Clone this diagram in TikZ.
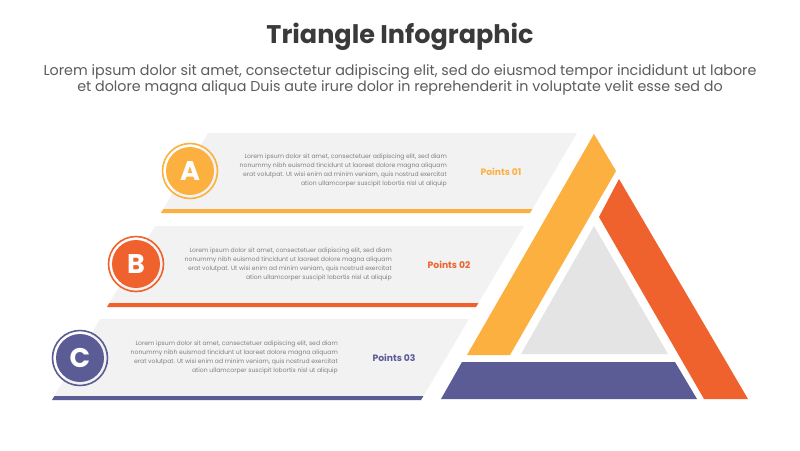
\documentclass[tikz,border=0pt]{standalone}
\usepackage{fontspec}
\setmainfont{Poppins}
\usetikzlibrary{positioning}

\definecolor{ptyellow}{HTML}{FBB040}
\definecolor{ptorange}{HTML}{F0622D}
\definecolor{ptpurple}{HTML}{5B5B96}
\definecolor{panelgray}{HTML}{F2F2F2}
\definecolor{innergray}{HTML}{E4E4E4}
\definecolor{titlegray}{HTML}{3A3A3A}
\definecolor{bodygray}{HTML}{5C5C5C}
\definecolor{smallgray}{HTML}{808080}

\tikzset{
    panel/.style={fill=panelgray},
    bar/.style={fill=#1},
    badge/.style={
        circle,
        fill=#1,
        minimum size=48pt,
        inner sep=0pt,
        text=white,
        font=\fontsize{27}{27}\selectfont\bfseries
    },
    ring/.style={draw=#1, line width=1.6pt},
    desc/.style={
        anchor=east,
        align=right,
        inner sep=0pt,
        text=smallgray,
        font=\fontsize{6.1}{9}\selectfont
    },
    points/.style={
        text=#1,
        inner sep=0pt,
        font=\fontsize{9.2}{9.2}\selectfont\bfseries
    }
}

\newcommand{\loremtext}{Lorem ipsum dolor sit amet, consectetuer adipiscing elit, sed diam\\
nonummy nibh euismod tincidunt ut laoreet dolore magna aliquam\\
erat volutpat. Ut wisi enim ad minim veniam, quis nostrud exercitat\\
ation ullamcorper suscipit lobortis nisl ut aliquip}

\begin{document}
\begin{tikzpicture}[x=1pt, y=-1pt]
    \useasboundingbox[fill=white] (0,0) rectangle (800,450);

    % heading
    \node[text=titlegray, font=\fontsize{25.5}{25.5}\selectfont\bfseries] (title) at (400,37) {Triangle Infographic};
    \node[text=bodygray, align=center, font=\fontsize{14.3}{16.5}\selectfont] (subtitle) at (400,80)
        {Lorem ipsum dolor sit amet, consectetur adipiscing elit, sed do eiusmod tempor incididunt ut labore\\
         et dolore magna aliqua Duis aute irure dolor in reprehenderit in voluptate velit esse sed do};

    % panels
    \fill[panel] (208,133) -- (577,133) -- (530,213) -- (161,213) -- cycle;
    \fill[bar=ptyellow] (163.3,209) -- (532.3,209) -- (530,213) -- (161,213) -- cycle;
    \fill[panel] (155,226) -- (524,226) -- (476,307) -- (107,307) -- cycle;
    \fill[bar=ptorange] (109.4,303) -- (478.4,303) -- (476,307) -- (107,307) -- cycle;
    \fill[panel] (100,319) -- (469,319) -- (421,400) -- (52,400) -- cycle;
    \fill[bar=ptpurple] (54.4,396) -- (423.4,396) -- (421,400) -- (52,400) -- cycle;

    % badges
    \node[badge=ptyellow] (A) at (190,171) {A};
    \draw[ring=ptyellow] (A.center) circle (27.5pt);
    \node[badge=ptorange] (B) at (136,264) {B};
    \draw[ring=ptorange] (B.center) circle (27.5pt);
    \node[badge=ptpurple] (C) at (80,358) {C};
    \draw[ring=ptpurple] (C.center) circle (27.5pt);

    % texts
    \node[desc] (descA) at (447,170) {\loremtext};
    \node[desc] (descB) at (392,264) {\loremtext};
    \node[desc] (descC) at (338,357) {\loremtext};
    \node[points=ptyellow] (ptsA) at (501,172) {Points 01};
    \node[points=ptorange] (ptsB) at (449,265) {Points 02};
    \node[points=ptpurple] (ptsC) at (394,358) {Points 03};

    % triangle
    \fill[ptyellow] (594,134) -- (616,171) -- (510,355) -- (467,355) -- cycle;
    \fill[ptorange] (619,179) -- (748,399) -- (704,399) -- (599,217) -- cycle;
    \fill[ptpurple] (462,362) -- (675,362) -- (697,399) -- (441,399) -- cycle;
    \fill[innergray] (594,226) -- (668,354) -- (521,354) -- cycle;
\end{tikzpicture}
\end{document}
